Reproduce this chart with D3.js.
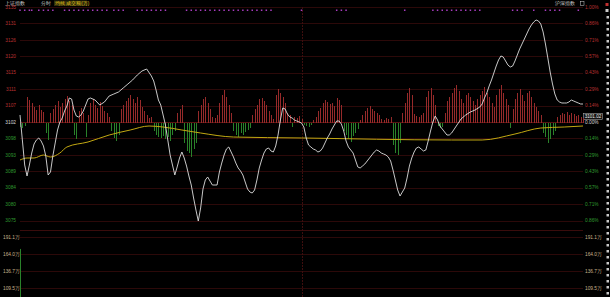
<!DOCTYPE html>
<html>
<head>
<meta charset="utf-8">
<script src="https://cdn.jsdelivr.net/npm/d3@7/dist/d3.min.js"></script>
<style>
	body { margin: 0; background: #000; }
	svg { display: block; }
	text { font-family: "Liberation Sans", Arial, sans-serif; }
</style>
</head>
<body>
<div id="chart"></div>
<script>
// ---- data ----
const prevClose = 3101.02;
const pctTicks = [1.0, 0.857, 0.714, 0.571, 0.429, 0.286, 0.143, 0, -0.143, -0.286, -0.429, -0.571, -0.714, -0.857];
const priceLabels = ["3135", "3131", "3126", "3120", "3115", "3111", "3107", "3102", "3098", "3093", "3089", "3084", "3080", "3075"];
const pctLabels = ["1.00%", "0.86%", "0.71%", "0.57%", "0.43%", "0.29%", "0.14%", "0.00%", "0.14%", "0.29%", "0.43%", "0.57%", "0.71%", "0.86%"];
const volTicks = [191.1, 164.0, 136.7, 109.5];
const volLabels = ["191.1万", "164.0万", "136.7万", "109.5万"];

// [minute, price]
const pricePts = [[0,3102.91],[1,3096.17],[2,3089.42],[3,3086.46],[4,3089.42],[5,3092.66],[6,3095.09],[7,3096.17],[8,3096.71],[9,3095.90],[10,3094.55],[11,3091.85],[12,3086.73],[13,3087.54],[14,3091.85],[15,3095.36],[16,3098.86],[17,3101.02],[18,3102.10],[19,3103.99],[20,3105.33],[21,3107.49],[22,3107.22],[23,3104.26],[24,3102.64],[25,3102.37],[26,3102.91],[27,3103.99],[28,3105.60],[29,3107.22],[30,3107.49],[32,3106.95],[34,3105.60],[36,3106.41],[38,3108.03],[40,3108.57],[42,3109.11],[44,3110.19],[46,3111.27],[48,3112.35],[50,3113.69],[52,3114.77],[54,3115.31],[56,3113.42],[57,3112.08],[58,3109.65],[59,3106.95],[60,3105.60],[61,3102.91],[62,3100.21],[63,3096.17],[64,3092.12],[65,3089.42],[66,3086.73],[67,3088.89],[68,3091.31],[69,3092.93],[70,3091.31],[71,3089.15],[72,3086.46],[73,3084.03],[74,3080.53],[75,3077.29],[76,3074.32],[77,3077.83],[78,3082.95],[79,3085.38],[80,3086.19],[81,3085.11],[82,3084.03],[84,3084.03],[85,3087.54],[86,3089.96],[87,3092.12],[88,3093.74],[89,3094.28],[90,3092.93],[91,3091.58],[92,3089.96],[93,3088.62],[94,3087.81],[95,3086.73],[96,3084.84],[97,3082.95],[98,3082.14],[99,3081.87],[100,3082.68],[101,3085.38],[102,3088.62],[103,3090.77],[104,3092.66],[105,3093.74],[106,3094.01],[107,3093.20],[108,3092.93],[109,3094.55],[110,3097.51],[111,3101.56],[112,3104.80],[113,3104.53],[114,3103.18],[115,3102.37],[116,3102.10],[117,3101.56],[118,3101.29],[119,3101.02],[120,3100.75],[121,3099.67],[122,3096.71],[123,3094.82],[124,3094.28],[125,3093.74],[126,3093.47],[127,3092.93],[128,3093.20],[129,3094.01],[130,3095.36],[131,3096.71],[132,3097.78],[133,3099.13],[134,3100.21],[135,3101.29],[136,3101.29],[137,3100.48],[138,3098.59],[139,3095.90],[140,3094.28],[141,3093.47],[142,3092.66],[143,3090.77],[144,3088.89],[145,3088.62],[146,3089.15],[147,3089.69],[148,3090.50],[149,3091.31],[150,3092.12],[151,3092.93],[152,3093.47],[153,3093.20],[154,3092.66],[155,3092.39],[156,3092.12],[157,3091.58],[158,3090.50],[159,3088.08],[160,3085.38],[161,3082.68],[162,3081.06],[163,3082.14],[164,3083.22],[165,3085.92],[166,3089.15],[167,3091.31],[168,3092.93],[169,3094.01],[170,3094.28],[171,3093.74],[172,3093.20],[173,3093.47],[174,3095.90],[175,3098.59],[176,3101.02],[177,3102.64],[178,3101.56],[179,3099.94],[180,3099.13],[181,3098.32],[182,3097.51],[183,3097.51],[184,3098.05],[186,3099.94],[188,3101.83],[190,3102.91],[192,3103.72],[194,3104.26],[196,3105.06],[197,3105.87],[198,3107.49],[199,3108.84],[200,3110.73],[201,3112.35],[202,3114.23],[203,3116.12],[204,3117.74],[205,3118.82],[206,3118.55],[207,3117.47],[208,3116.39],[209,3115.85],[210,3116.12],[211,3117.47],[212,3119.09],[213,3120.71],[214,3122.05],[215,3123.40],[216,3124.75],[217,3126.10],[218,3127.18],[219,3127.99],[220,3128.53],[221,3128.26],[222,3127.45],[223,3125.29],[224,3122.05],[225,3118.28],[226,3114.50],[227,3111.27],[228,3108.57],[229,3106.95],[230,3106.41],[231,3106.14],[232,3106.14],[233,3106.14],[234,3106.41],[235,3106.95],[236,3106.68],[237,3106.41],[238,3106.14],[239,3105.87],[240,3105.87]];

// [minute, average price]
const avgPts = [[0,3090.77],[3,3091.31],[6,3091.31],[10,3092.12],[13,3091.58],[17,3092.66],[20,3094.28],[29,3095.63],[38,3097.51],[47,3098.86],[55,3099.94],[61,3099.67],[69,3098.86],[77,3098.05],[91,3096.97],[120,3096.71],[184,3096.17],[197,3096.17],[211,3097.78],[222,3099.40],[232,3099.67],[240,3099.94]];

// red/green bars around the zero line, one per minute
const force = [
	-4,-5,-3,26,23,20,16,13,18,13,
	11,-10,-17,10,14,18,22,16,20,24,
	27,22,18,-12,-16,12,15,10,-14,8,
	20,24,18,15,21,17,12,10,6,-8,
	-15,-18,-12,14,18,22,25,28,24,20,
	26,23,16,12,8,5,6,-8,-12,-14,
	-15,-13,-16,-14,-18,-12,-8,10,14,18,
	-20,-28,-30,-34,-26,-20,12,18,24,26,
	20,14,6,5,8,20,28,33,26,18,
	10,-8,-12,-14,-10,-12,-9,-7,-5,8,
	14,18,24,25,22,18,12,8,4,28,
	34,30,26,20,10,8,-4,6,5,7,
	4,-2,-3,-4,-2,3,6,12,15,20,
	23,21,19,20,17,25,23,18,-8,-12,
	-16,-19,-13,-10,-6,3,8,12,15,17,
	14,12,10,8,4,3,5,4,6,-22,
	-30,-32,-20,10,20,30,35,28,9,7,
	6,8,10,26,32,35,28,18,-3,-5,
	-4,10,22,26,30,35,38,32,24,20,
	28,30,26,22,18,24,28,32,36,30,
	26,20,16,28,34,38,30,24,18,-5,
	14,24,30,34,28,22,30,32,26,20,
	16,12,8,-10,-14,-20,-16,-12,-8,6,
	8,10,9,11,8,10,9,7,8,6,
	5
];

// [minute, volume (万)]
const volumes = [[0, 172]];

// minutes with a news marker on the top row
const newsMarks = [0,2,4,5,8,10,12,14,19,21,23,25,27,29,31,33,35,37,40,42,44,50,52,54,56,58,60,62,71,73,75,77,79,81,83,85,87,89,91,93,95,97,99,101,103,105,107,120,135,137,139,164,176,178,180,182,184,186,188,190,192,194,196,210,212,214,219,224,226,228,230,238];

function main() {
	const W = 610, H = 297;
	const left = 20, right = 583;
	const mainTop = 7, mainBottom = 230;

	const svg = d3.select("#chart").append("svg")
		.attr("width", W).attr("height", H)
		.style("background", "#000");

	const x = d3.scaleLinear().domain([0, 240]).range([left, right]);
	const y = d3.scaleLinear().domain([-1, 1]).range([237, mainTop]);
	const pct = (p) => (p - prevClose) / prevClose * 100;
	const yPrice = (p) => y(pct(p));
	const barH = d3.scaleLinear().domain([0, 40]).range([0, 40]);
	const yv = d3.scaleLinear().domain([109.5, 191.1]).range([288, 237]);

	const red = "#b83030", green = "#2f9a2f";
	const gridColor = "#2c0909";

	// grid
	svg.append("g").selectAll("line")
		.data(pctTicks)
		.join("line")
		.attr("x1", left).attr("x2", right)
		.attr("y1", (d) => Math.round(y(d)) + 0.5)
		.attr("y2", (d) => Math.round(y(d)) + 0.5)
		.attr("stroke", (d) => d === 0 ? "#5a1212" : gridColor)
		.attr("stroke-width", 1);

	svg.append("g").selectAll("line")
		.data(volTicks)
		.join("line")
		.attr("x1", left).attr("x2", right)
		.attr("y1", (d) => Math.round(yv(d)) + 0.5)
		.attr("y2", (d) => Math.round(yv(d)) + 0.5)
		.attr("stroke", gridColor);

	svg.append("line")
		.attr("x1", left).attr("x2", right)
		.attr("y1", mainBottom + 0.5).attr("y2", mainBottom + 0.5)
		.attr("stroke", "#3a0c0c");

	// midday separator
	svg.append("line")
		.attr("x1", Math.round(x(120)) + 0.5).attr("x2", Math.round(x(120)) + 0.5)
		.attr("y1", mainTop).attr("y2", H)
		.attr("stroke", "#3e0e0e")
		.attr("stroke-dasharray", "2,1");

	// left price labels
	svg.append("g").selectAll("text")
		.data(pctTicks)
		.join("text")
		.attr("x", 16)
		.attr("y", (d) => y(d) + 1.7)
		.attr("text-anchor", "end")
		.style("font-size", "4.8px")
		.attr("fill", (d) => d > 0 ? red : d < 0 ? green : "#d8d8d8")
		.text((d, i) => priceLabels[i]);

	// right percent labels
	svg.append("g").selectAll("text")
		.data(pctTicks)
		.join("text")
		.attr("x", 585)
		.attr("y", (d) => y(d) + 1.7)
		.style("font-size", "4.8px")
		.attr("fill", (d) => d > 0 ? red : d < 0 ? green : "#d8d8d8")
		.text((d, i) => pctLabels[i]);

	// previous close box
	svg.append("rect")
		.attr("x", 583.5).attr("y", y(0) - 8.5)
		.attr("width", 19).attr("height", 6)
		.attr("fill", "#141414").attr("stroke", "#bdbdbd").attr("stroke-width", 0.5);
	svg.append("text")
		.attr("x", 593).attr("y", y(0) - 3.8)
		.attr("text-anchor", "middle")
		.style("font-size", "4.6px")
		.attr("fill", "#eee")
		.text(prevClose.toFixed(2));

	// volume labels
	[left - 17, 585].forEach((lx) => {
		svg.append("g").selectAll("text")
			.data(volTicks)
			.join("text")
			.attr("x", lx)
			.attr("y", (d) => yv(d) + 1.7)
			.style("font-size", "4.8px")
			.attr("fill", "#c8b48c")
			.text((d, i) => volLabels[i]);
	});

	// red / green bars
	const base = y(0) + 1;
	svg.append("g").selectAll("line")
		.data(force)
		.join("line")
		.attr("x1", (d, i) => Math.round(x(i)) + 0.5)
		.attr("x2", (d, i) => Math.round(x(i)) + 0.5)
		.attr("y1", base)
		.attr("y2", (d) => d >= 0 ? base - barH(d) : base + barH(-d))
		.attr("stroke", (d) => d >= 0 ? "#962a2a" : "#2a822a")
		.attr("stroke-width", 1);

	// volume bars
	svg.append("g").selectAll("line")
		.data(volumes)
		.join("line")
		.attr("x1", (d) => x(d[0]) + 0.5).attr("x2", (d) => x(d[0]) + 0.5)
		.attr("y1", H).attr("y2", (d) => yv(d[1]))
		.attr("stroke", "#2a822a");

	// average and price lines
	svg.append("path")
		.datum(avgPts)
		.attr("d", d3.line().x((d) => x(d[0])).y((d) => yPrice(d[1])).curve(d3.curveMonotoneX))
		.attr("fill", "none")
		.attr("stroke", "#c2a812")
		.attr("stroke-width", 1);
	svg.append("path")
		.datum(pricePts)
		.attr("d", d3.line().x((d) => x(d[0])).y((d) => yPrice(d[1])))
		.attr("fill", "none")
		.attr("stroke", "#dedede")
		.attr("stroke-width", 0.9);

	// news markers
	svg.append("g").selectAll("rect")
		.data(newsMarks)
		.join("rect")
		.attr("x", (d) => x(d) - 0.75)
		.attr("y", 9.5)
		.attr("width", 1.5).attr("height", 1.5)
		.attr("fill", "#a83cc0");

	// header
	svg.append("text").attr("x", 5).attr("y", 5)
		.style("font-size", "5px").attr("fill", "#cfcfcf").text("上证指数");
	svg.append("text").attr("x", 41).attr("y", 5)
		.style("font-size", "5px").attr("fill", "#cfcfcf").text("分时");
	svg.append("rect").attr("x", 54).attr("y", 0.5).attr("width", 33).attr("height", 5.5)
		.attr("fill", "#2e2c0c");
	svg.append("text").attr("x", 55).attr("y", 5)
		.style("font-size", "4.6px").attr("fill", "#e2c818").text("均线 成交额(万)");
	svg.append("text").attr("x", 555).attr("y", 5)
		.style("font-size", "5px").attr("fill", "#cfcfcf").text("沪深指数");
	svg.append("rect").attr("x", 580.5).attr("y", 1.5).attr("width", 3.5).attr("height", 4)
		.attr("fill", "none").attr("stroke", "#cfcfcf").attr("stroke-width", 0.5);

	// right side strip
	const strip = d3.range(16, H, 6);
	svg.append("g").selectAll("rect")
		.data(strip)
		.join("rect")
		.attr("x", 606.5).attr("y", (d) => d)
		.attr("width", 2.5).attr("height", 2.5)
		.attr("fill", "#c8c8c8");
	svg.append("rect").attr("x", 605.5).attr("y", 3).attr("width", 3).attr("height", 3).attr("fill", "#c03030");
	svg.append("rect").attr("x", 605.5).attr("y", 9).attr("width", 3).attr("height", 3).attr("fill", "#c8c8c8");
}

main();
</script>
</body>
</html>
